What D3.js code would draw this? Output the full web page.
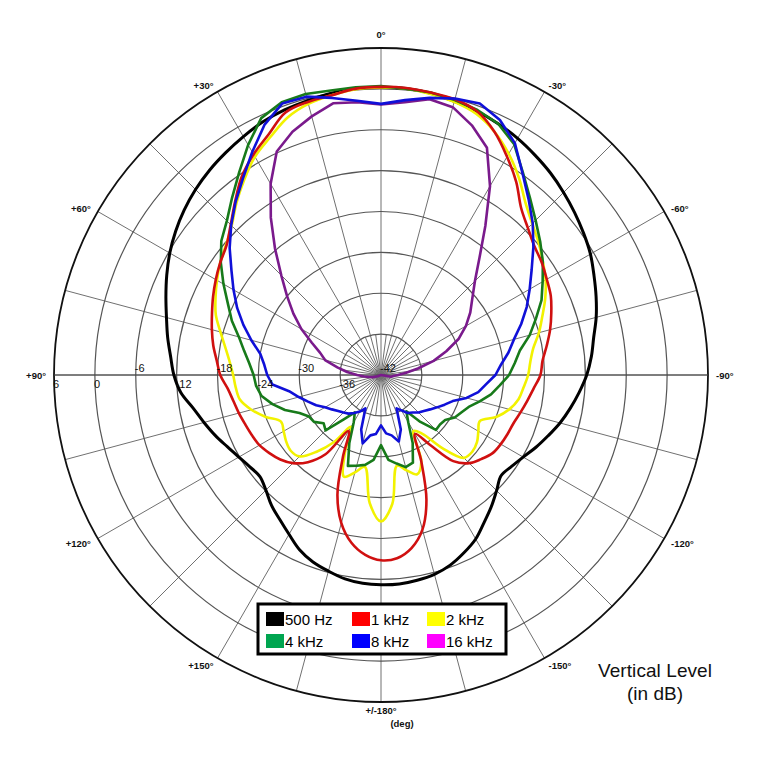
<!DOCTYPE html>
<html>
<head>
<meta charset="utf-8">
<script src="https://cdn.jsdelivr.net/npm/d3@7"></script>
<style>
  body { margin: 0; background: #fff; }
  svg { display: block; }
</style>
</head>
<body>
<svg id="chart" width="768" height="766"></svg>
<script>
// sample angles in degrees, + is to the left of 0
var angles = d3.range(-180, 180, 5)

var seriesNames = ['500 Hz', '1 kHz', '2 kHz', '4 kHz', '8 kHz', '16 kHz']
var lineColors = ['#000000', '#d01010', '#f2f200', '#177a1a', '#1010d8', '#7a1a8c']
var swatchColors = ['#000000', '#ff0000', '#ffff00', '#00a550', '#0000ff', '#ff00ff']

// levels in dB, from -180 to +175 deg
var hz500 = [-11.2,
  -11.2, -11.4, -11.7, -12.3, -13.2, -14.2, -15.6, -16.8, -18, -19, -18.6, -17.9, -16.9, -15.9, -14.8, -13.8, -12.8,
  -11.8, -11, -10.3, -9.3, -8.4, -7.5, -6.5, -5.7, -4.9, -4.1, -3.3, -2.6, -1.9, -1.3, -0.8, -0.4, 0, 0.2,
  0.2,
  0.2, 0, -0.3, -0.6, -1, -1.6, -2.2, -2.8, -3.5, -4.3, -5.2, -6.2, -7.3, -8.4, -9.4, -10.2, -11, -11.6,
  -12.5, -14, -15.1, -16.1, -17.1, -17.9, -18.5, -18.8, -18.1, -17, -16.1, -15, -13.7, -12.8, -12.2, -11.6, -11.3]

var khz1 = [-14.8,
  -15, -16.2, -18.5, -22.5, -28, -32, -29.5, -25.5, -23.7, -22.8, -22, -21.7, -21.5, -21.3, -20.8, -20.2, -19.5,
  -18.6, -18.2, -17.3, -16.3, -15.4, -14.5, -13.9, -13.2, -12.6, -11.5, -10, -7.4, -5, -2.6, -0.8, -0.1, 0.1, 0.3,
  0.3,
  0.2, -0.3, -0.5, -1, -3, -4.6, -6.4, -8.7, -10.8, -12.4, -13.2, -14, -14.8, -15.6, -16.3, -17, -17.8, -18.4,
  -19.4, -20, -20.4, -20.8, -21.1, -21.4, -22, -22.7, -23.7, -25.3, -27.8, -32.5, -28.8, -23.3, -19.5, -17, -15.5]

var khz2 = [-20.5,
  -23, -28.5, -27.5, -26.5, -28, -32.5, -31.5, -28, -24.8, -24.5, -24.8, -25.5, -26, -24, -22.5, -21.5, -21,
  -20.4, -20, -19.3, -18, -16.8, -15.4, -14.1, -13, -11.8, -10.6, -9, -6.7, -4.5, -2.6, -1.2, -0.5, -0.1, 0.2,
  0.2,
  0.1, -0.3, -0.8, -1.8, -3.5, -5, -7, -9, -11, -12.3, -13.2, -14.2, -15.2, -16.2, -17.6, -18.8, -19.7, -20.3,
  -20.6, -21, -22.3, -24, -25.8, -25.5, -25, -24.7, -25.1, -27.3, -30, -33.2, -29.5, -26.1, -27.2, -28.3, -23.1]

var khz4 = [-31.7,
  -29.5, -28.8, -28, -28.3, -31, -34, -35.5, -33, -30.6, -30.7, -30.5, -29.5, -29, -28.3, -27, -25.6, -24.5,
  -23.2, -22.3, -21.3, -19.4, -17.8, -16, -14.6, -13, -11.5, -9.9, -8, -5.7, -2.9, -1.3, -0.6, -0.2, 0.1, 0.2,
  0.4,
  0.4, 0.4, 0.7, 0.6, -0.4, -3, -5.7, -8, -10, -11.4, -13.3, -15.3, -17.2, -18.7, -20.4, -21.6, -22.6, -23.3,
  -23.6, -24.2, -25.5, -27, -28.8, -29.8, -30, -31, -30.5, -33.5, -35.3, -34, -31, -27.8, -28.2, -28.6, -29.5]

var khz8 = [-34.6,
  -33.4, -33, -31.9, -33.5, -36.6, -36, -35.2, -34.8, -34.2, -33.8, -33.2, -32.5, -31.7, -30.8, -29, -27.5, -26.5,
  -25.2, -24.3, -23, -21.8, -20.1, -18.4, -16.8, -15, -12.8, -10.5, -8.3, -5.8, -2.7, -0.7, 0.4, 0, -0.7, -1.5,
  -2.2,
  -1.6, -0.7, 0.3, 0.4, -1.5, -4.2, -6.7, -8.8, -10.9, -13, -15.2, -17, -18.7, -20.5, -22.3, -24, -24.8, -25.3,
  -26, -28.3, -29.5, -30.6, -31.5, -32.5, -33.2, -33.8, -34.2, -34.6, -35.2, -35.8, -36.6, -33.5, -31.6, -33, -33.3]

var khz16 = [-42,
  -42, -42, -42, -42, -42, -42, -42, -42, -42, -42, -42, -42, -42, -42, -42, -40.5, -40.2,
  -39.5, -38.3, -36.5, -34, -31.8, -29.4, -27.6, -26, -24.5, -22.5, -19.5, -15.3, -10, -5.2, -3, -1.3, -0.9, -1.8,
  -2.3,
  -1.8, -1.5, -2.7, -4, -5.8, -9.6, -13.8, -17.8, -21.3, -24, -26.3, -28.5, -30.8, -32.5, -33.5, -35.5, -37, -38.5,
  -39.5, -40.3, -40.8, -41.5, -42, -42, -42, -42, -42, -42, -42, -42, -42, -42, -42, -42, -42]

var seriesValues = [hz500, khz1, khz2, khz4, khz8, khz16]
var drawOrder = [0, 2, 3, 1, 5, 4]

var ringLevels = [6, 0, -6, -12, -18, -24, -30, -36, -42]
var ringLabels = ['6', '0', '-6', '-12', '-18', '-24', '-30', '-36', '-42']
var ringLabelBelow = [true, true, false, true, false, true, false, true, false]

var angleTicks = [0, 30, 60, 90, 120, 150, 180, -150, -120, -90, -60, -30]
var angleTickLabels = ['0°', '+30°', '+60°', '+90°', '+120°', '+150°', '+/-180°', '-150°', '-120°', '-90°', '-60°', '-30°']

var cx = 381, cy = 375, R = 327
var svg = d3.select('#chart')
var g = svg.append('g').attr('transform', 'translate(' + cx + ',' + cy + ')')

var r = d3.scaleLinear().domain([-42, 6]).range([0, R]).clamp(true)
var a = d3.scaleLinear().domain([-180, 180]).range([Math.PI, -Math.PI])

function px (deg, rad) { return rad * Math.sin(a(deg)) }
function py (deg, rad) { return -rad * Math.cos(a(deg)) }

// spokes
var spokes = d3.range(-180, 180, 15)
g.selectAll('line.spoke')
  .data(spokes)
  .enter().append('line')
  .attr('class', 'spoke')
  .attr('x1', 0).attr('y1', 0)
  .attr('x2', function (d) { return px(d, R) })
  .attr('y2', function (d) { return py(d, R) })
  .attr('stroke', '#707070')
  .attr('stroke-width', 1)

var innerSpokes = d3.range(-172.5, 180, 15)
g.selectAll('line.ispoke')
  .data(innerSpokes)
  .enter().append('line')
  .attr('class', 'ispoke')
  .attr('x1', 0).attr('y1', 0)
  .attr('x2', function (d) { return px(d, r(-36)) })
  .attr('y2', function (d) { return py(d, r(-36)) })
  .attr('stroke', '#707070')
  .attr('stroke-width', 1)

// rings
g.selectAll('circle.ring')
  .data(ringLevels.filter(function (d) { return d > -42 }))
  .enter().append('circle')
  .attr('class', 'ring')
  .attr('r', function (d) { return r(d) })
  .attr('fill', 'none')
  .attr('stroke', function (d, i) { return i === 0 ? '#111' : '#555' })
  .attr('stroke-width', function (d, i) { return i === 0 ? 1.8 : 1.2 })

// horizontal axis line
g.append('line')
  .attr('x1', -R).attr('y1', 0).attr('x2', R).attr('y2', 0)
  .attr('stroke', '#444').attr('stroke-width', 1.2)

// curves
var smooth = d3.lineRadial()
  .angle(function (d) { return a(d[0]) })
  .radius(function (d) { return r(d[1]) })
  .curve(d3.curveCatmullRomClosed.alpha(0.5))
var jagged = d3.lineRadial()
  .angle(function (d) { return a(d[0]) })
  .radius(function (d) { return r(d[1]) })
  .curve(d3.curveLinearClosed)

g.selectAll('path.curve')
  .data(drawOrder)
  .enter().append('path')
  .attr('class', 'curve')
  .attr('d', function (k) {
    var pts = angles.map(function (ang, i) { return [ang, seriesValues[k][i]] })
    return k >= 3 ? jagged(pts) : smooth(pts)
  })
  .attr('fill', 'none')
  .attr('stroke', function (k) { return lineColors[k] })
  .attr('stroke-width', function (k) { return k === 0 ? 3 : 2.6 })
  .attr('stroke-linejoin', 'round')

// ring labels along the left axis
g.selectAll('text.ring')
  .data(ringLevels)
  .enter().append('text')
  .attr('class', 'ring')
  .attr('x', function (d) { return -r(d) - 1 })
  .attr('y', function (d, i) { return ringLabelBelow[i] ? 13 : -3 })
  .attr('font-family', 'Liberation Sans, Arial, sans-serif')
  .attr('font-size', '11px')
  .attr('fill', '#111')
  .text(function (d, i) { return ringLabels[i] })

// angle labels
var labelR = 335
g.selectAll('text.ang')
  .data(angleTicks)
  .enter().append('text')
  .attr('class', 'ang')
  .attr('x', function (d) { return px(d, labelR) })
  .attr('y', function (d) {
    if (d === 0) return -labelR - 2
    if (d === 180) return labelR + 4
    return py(d, labelR) + 4
  })
  .attr('text-anchor', function (d) {
    if (d === 0 || d === 180) return 'middle'
    return d > 0 ? 'end' : 'start'
  })
  .attr('font-family', 'Liberation Sans, Arial, sans-serif')
  .attr('font-size', '9.5px')
  .attr('font-weight', 'bold')
  .attr('fill', '#111')
  .text(function (d, i) { return angleTickLabels[i] })

svg.append('text')
  .attr('x', 402).attr('y', 727)
  .attr('text-anchor', 'middle')
  .attr('font-family', 'Liberation Sans, Arial, sans-serif')
  .attr('font-size', '9.5px')
  .attr('font-weight', 'bold')
  .attr('fill', '#111')
  .text('(deg)')

// legend
var legend = svg.append('g')
legend.append('rect')
  .attr('x', 258).attr('y', 604).attr('width', 248).attr('height', 50)
  .attr('fill', '#fff').attr('stroke', '#000').attr('stroke-width', 3)

var colX = [266, 352, 427]
var rowY = [619, 641]
var items = legend.selectAll('g.item')
  .data(seriesNames)
  .enter().append('g')
  .attr('class', 'item')
  .attr('transform', function (d, i) {
    return 'translate(' + colX[i % 3] + ',' + rowY[Math.floor(i / 3)] + ')'
  })
items.append('rect')
  .attr('x', 0).attr('y', -7).attr('width', 18).attr('height', 14)
  .attr('fill', function (d, i) { return swatchColors[i] })
items.append('text')
  .attr('x', 19).attr('y', 5.5)
  .attr('font-family', 'Liberation Sans, Arial, sans-serif')
  .attr('font-size', '15px')
  .attr('fill', '#000')
  .text(function (d) { return d })

// side caption
svg.append('text')
  .attr('x', 655).attr('y', 677)
  .attr('text-anchor', 'middle')
  .attr('font-family', 'Liberation Sans, Arial, sans-serif')
  .attr('font-size', '19px')
  .attr('fill', '#111')
  .attr('textLength', 114)
  .text('Vertical Level')
svg.append('text')
  .attr('x', 655).attr('y', 700)
  .attr('text-anchor', 'middle')
  .attr('font-family', 'Liberation Sans, Arial, sans-serif')
  .attr('font-size', '19px')
  .attr('fill', '#111')
  .text('(in dB)')
</script>
</body>
</html>
